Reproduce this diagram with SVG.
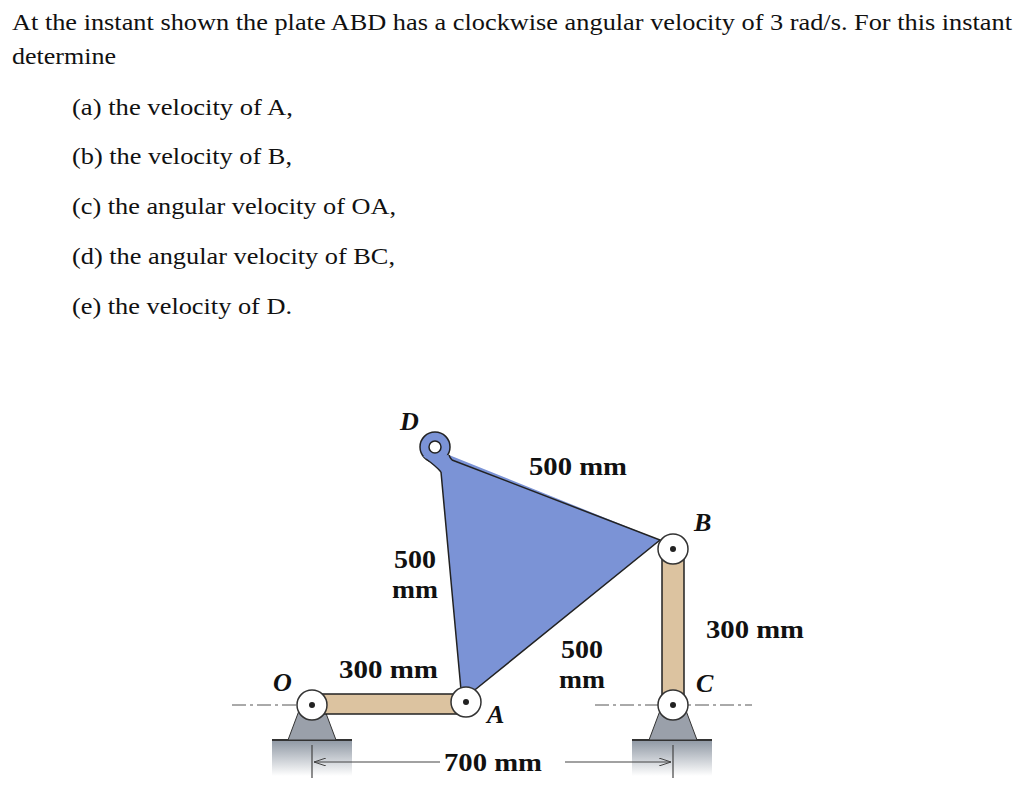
<svg xmlns="http://www.w3.org/2000/svg" width="1024" height="802" viewBox="0 0 1024 802">
<defs>
<style>
.t{font-family:"Liberation Serif",serif;font-size:24px;fill:#111}
.l{font-family:"Liberation Serif",serif;font-size:25px;font-weight:bold;fill:#111}
.i{font-family:"Liberation Serif",serif;font-size:26px;font-weight:bold;font-style:italic;fill:#111}
.bar{fill:#dcc3a0;stroke:#222;stroke-width:1.5}
.pin{fill:#fff;stroke:#333;stroke-width:1.5}
.cl{stroke:#555;stroke-width:1;stroke-dasharray:14 4 3 4;fill:none}
.dim{stroke:#444;stroke-width:1.2;fill:none}
</style>
<linearGradient id="g" x1="0" y1="0" x2="0" y2="1"><stop offset="0" stop-color="#8e97a3"/><stop offset="1" stop-color="#fff"/></linearGradient>
<marker id="ar" markerWidth="12" markerHeight="8" refX="12" refY="4" orient="auto" markerUnits="userSpaceOnUse"><path d="M0,0L12,4L0,8" fill="none" stroke="#444"/></marker>
</defs>
<rect width="1024" height="802" fill="#fff"/>
<text class="t" x="12" y="30" textLength="1000" lengthAdjust="spacingAndGlyphs">At the instant shown the plate ABD has a clockwise angular velocity of 3 rad/s.  For this instant</text>
<text class="t" x="12" y="64" textLength="104" lengthAdjust="spacingAndGlyphs">determine</text>
<text class="t" x="72" y="115" textLength="221" lengthAdjust="spacingAndGlyphs">(a) the velocity of A,</text>
<text class="t" x="72" y="164" textLength="220" lengthAdjust="spacingAndGlyphs">(b) the velocity of B,</text>
<text class="t" x="72" y="214" textLength="324" lengthAdjust="spacingAndGlyphs">(c) the angular velocity of OA,</text>
<text class="t" x="72" y="264" textLength="323" lengthAdjust="spacingAndGlyphs">(d) the angular velocity of BC,</text>
<text class="t" x="72" y="314" textLength="220" lengthAdjust="spacingAndGlyphs">(e) the velocity of D.</text>
<g id="ground">
<rect x="272" y="740" width="80" height="36" fill="url(#g)"/>
<rect x="632" y="740" width="80" height="36" fill="url(#g)"/>
<line x1="272" y1="740" x2="352" y2="740" stroke="#333" stroke-width="2"/>
<line x1="632" y1="740" x2="712" y2="740" stroke="#333" stroke-width="2"/>
<polygon points="288,740 336,740 324,708 300,708" fill="#9aa0aa" stroke="#333"/>
<polygon points="649,740 697,740 685,708 661,708" fill="#9aa0aa" stroke="#333"/>
</g>
<g id="connectors">
<line class="cl" x1="232" y1="705" x2="450" y2="705"/>
<line class="cl" x1="595" y1="705" x2="752" y2="705"/>
<line class="dim" x1="312" y1="745" x2="312" y2="778"/>
<line class="dim" x1="673" y1="745" x2="673" y2="778"/>
<line class="dim" x1="440" y1="762" x2="314" y2="762" marker-end="url(#ar)"/>
<line class="dim" x1="565" y1="762" x2="671" y2="762" marker-end="url(#ar)"/>
</g>
<g id="OA"><rect class="bar" x="312" y="694" width="154" height="20"/></g>
<g id="BC"><rect class="bar" x="662" y="549" width="22" height="156"/></g>
<g id="plate">
<circle cx="435" cy="447" r="15" fill="#7b93d6" stroke="#222" stroke-width="1.5"/>
<polygon points="423,456 449,455 660,540 471,693 461,690 441,472" fill="#7b93d6"/>
<path d="M441,472 L461,690 M471,693 L660,540 L452,460" fill="none" stroke="#222" stroke-width="1.5"/>
<path d="M426,459 Q436,466 441,472 M449,455 Q450,458 452,460" fill="none" stroke="#222" stroke-width="1.5"/>
<circle cx="435" cy="447" r="6" fill="#fff" stroke="#222" stroke-width="1.5"/>
</g>
<g id="pins">
<circle class="pin" cx="312" cy="705" r="15"/><circle cx="312" cy="705" r="3" fill="#222"/>
<circle class="pin" cx="466" cy="702" r="15"/><circle cx="466" cy="702" r="3" fill="#222"/>
<circle class="pin" cx="673" cy="549" r="15"/><circle cx="673" cy="549" r="3" fill="#222"/>
<circle class="pin" cx="673" cy="705" r="15"/><circle cx="673" cy="705" r="3" fill="#222"/>
</g>
<g id="labels">
<text class="i" x="400" y="430">D</text>
<text class="l" x="529" y="475" textLength="98" lengthAdjust="spacingAndGlyphs">500 mm</text>
<text class="i" x="694" y="531">B</text>
<text class="l" x="394" y="568" textLength="42" lengthAdjust="spacingAndGlyphs">500</text>
<text class="l" x="392" y="598" textLength="46" lengthAdjust="spacingAndGlyphs">mm</text>
<text class="l" x="706" y="638" textLength="98" lengthAdjust="spacingAndGlyphs">300 mm</text>
<text class="l" x="561" y="658" textLength="42" lengthAdjust="spacingAndGlyphs">500</text>
<text class="l" x="559" y="688" textLength="46" lengthAdjust="spacingAndGlyphs">mm</text>
<text class="i" x="273" y="691">O</text>
<text class="l" x="339" y="678" textLength="99" lengthAdjust="spacingAndGlyphs">300 mm</text>
<text class="i" x="696" y="692">C</text>
<text class="i" x="487" y="723">A</text>
<text class="l" x="444" y="771" textLength="98" lengthAdjust="spacingAndGlyphs">700 mm</text>
</g>
</svg>
